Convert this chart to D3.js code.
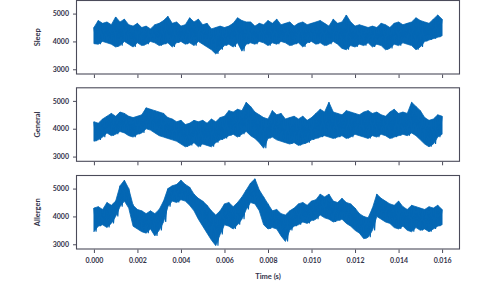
<!DOCTYPE html>
<html><head><meta charset="utf-8">
<script src="https://cdn.jsdelivr.net/npm/d3@7"></script>
<style>body{margin:0;background:#fff}svg{display:block}</style>
</head><body>
<svg id="c" width="500" height="281"></svg>
<script>
const panelNames = ["Sleep", "General", "Allergen"];
const xTicks = [0, 0.002, 0.004, 0.006, 0.008, 0.010, 0.012, 0.014, 0.016];
const yTicks = [3000, 4000, 5000];
const step = 0.0002;

const sleepHi = [4500,4750,4650,4700,4600,4880,4700,4800,4600,4550,4650,4500,4550,4450,4600,4650,4750,4900,4650,4700,4550,4600,4850,4700,4800,4600,4650,4450,4500,4550,4500,4550,4650,4850,4750,4700,4700,4550,4650,4600,4750,4650,4800,4600,4650,4700,4550,4650,4700,4600,4650,4700,4750,4650,4550,4800,4650,4700,4950,4700,4550,4600,4550,4500,4550,4500,4650,4600,4500,4650,4700,4600,4650,4700,4850,4750,4700,4650,4800,4950,4800];
const sleepLo = [3920,3900,4000,3950,3900,3800,3850,4000,3900,3800,3950,3850,3900,4000,3950,3850,3900,3950,3800,3950,4000,3900,3950,3850,4000,3900,3800,3700,3550,3700,3850,3900,3800,3950,3650,3900,3950,3900,4000,3950,3850,3950,3900,4000,3950,3850,3900,3950,3800,3950,4000,3900,3950,3850,3900,4000,3900,3750,3700,3850,3800,3900,3850,3950,3800,3900,3850,3700,3750,3900,3850,3950,3900,3850,3700,3800,4000,4050,4100,4150,4200];

const generalHi = [4250,4200,4350,4450,4550,4450,4600,4550,4450,4400,4450,4500,4750,4700,4650,4600,4550,4400,4350,4250,4300,4150,4200,4300,4250,4300,4200,4350,4250,4400,4450,4650,4600,4700,4650,4950,4800,4600,4500,4400,4350,4650,4500,4550,4350,4400,4450,4350,4450,4300,4400,4550,4700,4600,4950,4600,4550,4500,4650,4600,4550,4500,4600,4650,4550,4600,4500,4450,4600,4700,4550,4600,4550,4950,4800,4650,4400,4300,4350,4500,4450];
const generalLo = [3550,3600,3700,3850,3750,3800,3900,3850,3750,3700,3800,3850,4000,3950,3850,3750,3700,3650,3600,3550,3450,3350,3400,3500,3350,3450,3400,3350,3500,3600,3650,3750,3800,3700,3800,3900,3750,3650,3500,3300,3650,3700,3600,3550,3500,3450,3500,3400,3450,3500,3600,3650,3700,3750,3700,3650,3700,3750,3650,3700,3800,3750,3700,3650,3750,3700,3800,3750,3650,3700,3750,3800,3750,3850,3750,3600,3450,3350,3450,3700,3800];

const allergenHi = [4300,4350,4250,4500,4400,4550,5100,5300,5000,4400,4250,4200,4100,4200,4100,4250,4550,5000,5100,5150,5300,5150,5050,4800,4650,4550,4400,4200,4050,4200,4450,4500,4350,4500,4700,4950,5200,5350,4950,4700,4450,4200,4250,4100,4050,4200,4300,4450,4500,4400,4550,4600,4800,4700,4800,4550,4500,4650,4500,4450,4300,4100,4000,3950,4300,4800,4650,4550,4450,4400,4550,4350,4250,4400,4350,4300,4250,4350,4300,4400,4250];
const allergenLo = [3450,3650,3700,3600,3750,4000,4350,4550,4300,3650,3550,3450,3400,3550,3300,3500,3800,4350,4550,4500,4600,4550,4400,4200,3900,3650,3400,3150,2950,3350,3700,3650,3550,3700,3900,4250,4500,4450,4200,3700,3550,3600,3550,3300,3100,3500,3650,3700,3800,3750,3850,3900,4050,3950,3900,3800,3850,3900,3750,3650,3500,3400,3200,3250,3500,4000,3900,3800,3750,3600,3550,3650,3500,3450,3600,3500,3550,3450,3550,3650,3700];

const series = [[sleepHi, sleepLo], [generalHi, generalLo], [allergenHi, allergenLo]];

const left = 76.5, right = 459.5, panelH = 73.5;
const tops = [0.5, 87.8, 175.5];
const axisColor = "#4b4b5a", textColor = "#33334a", lineColor = "#0467b4";
const font = "Lato, 'Open Sans', sans-serif";

const svg = d3.select("#c");
const x = d3.scaleLinear().domain([-0.0008, 0.0168]).range([left, right]);

series.forEach((s, k) => {
  const [hi, lo] = s;
  const top = tops[k];
  const y = d3.scaleLinear().domain([2830, 5470]).range([top + panelH, top]);
  const g = svg.append("g");
  const idx = d3.range(hi.length);
  g.append("path")
    .attr("d", d3.area().x(i => x(i * step)).y0(i => y(lo[i])).y1(i => y(hi[i]))(idx))
    .attr("fill", lineColor).attr("stroke", lineColor)
    .attr("stroke-width", 0.8).attr("stroke-linejoin", "miter");
  // zigzag trace through the same readings, offset half a step, adds the fine spikes
  const pts = [];
  hi.forEach((v, i) => {
    pts.push([i * step, v]);
    if (i < hi.length - 1) pts.push([i * step + step / 2, lo[i]]);
  });
  g.append("path")
    .attr("d", d3.line().x(d => x(d[0])).y(d => y(d[1]))(pts))
    .attr("fill", "none").attr("stroke", lineColor)
    .attr("stroke-width", 1.1).attr("stroke-linejoin", "miter");
  g.append("rect").attr("x", left).attr("y", top)
    .attr("width", right - left).attr("height", panelH)
    .attr("fill", "none").attr("stroke", axisColor).attr("stroke-width", 1.1);

  const yAxis = g.append("g").attr("transform", `translate(${left},0)`)
    .call(d3.axisLeft(y).tickValues(yTicks).tickSize(3.5).tickPadding(4).tickFormat(d3.format("d")));
  yAxis.select(".domain").remove();
  yAxis.selectAll("line").attr("stroke", axisColor).attr("stroke-width", 1);
  yAxis.selectAll("text").attr("fill", textColor).style("font-family", font)
    .style("font-size", "7px").style("font-weight", "700");

  const xAxis = g.append("g").attr("transform", `translate(0,${top + panelH + 0.5})`)
    .call(d3.axisBottom(x).tickValues(xTicks).tickSize(3.5).tickPadding(5).tickFormat(d3.format(".3f")));
  xAxis.select(".domain").remove();
  xAxis.selectAll("line").attr("stroke", axisColor).attr("stroke-width", 1);
  xAxis.selectAll("text").attr("fill", textColor).style("font-family", font)
    .style("font-size", "7px").style("font-weight", "700");
  if (k < 2) xAxis.selectAll("text").remove();

  g.append("text").attr("transform", `translate(40,${top + panelH / 2}) rotate(-90)`)
    .attr("text-anchor", "middle").attr("fill", textColor)
    .style("font-family", font).style("font-size", "7.5px").style("font-weight", "700")
    .text(panelNames[k]);
});

svg.append("text").attr("x", (left + right) / 2).attr("y", 279)
  .attr("text-anchor", "middle").attr("fill", textColor)
  .style("font-family", font).style("font-size", "7.5px").style("font-weight", "700")
  .text("Time (s)");
</script>
</body></html>
